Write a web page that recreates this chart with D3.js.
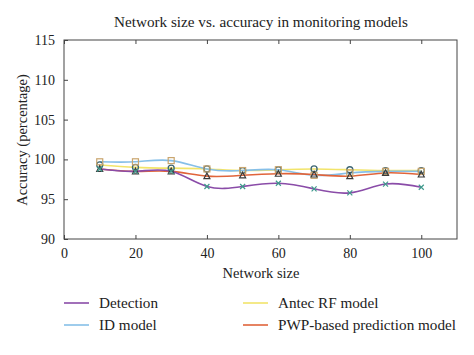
<!DOCTYPE html>
<html><head><meta charset="utf-8">
<script src="https://cdn.jsdelivr.net/npm/d3@7"></script>
<style>body{margin:0;background:#fff}svg{display:block}text{font-family:"Liberation Serif","Times New Roman",serif;fill:#222}</style>
</head><body><svg id="c" width="474" height="355"></svg>
<script>
const sizes = [10,20,30,40,50,60,70,80,90,100];
const detection = [98.8,98.5,98.5,96.6,96.6,97.0,96.3,95.8,96.9,96.5];
const idModel   = [99.7,99.7,99.85,98.8,98.6,98.7,98.0,98.3,98.5,98.5];
const antecRF   = [99.3,99.0,98.9,98.8,98.6,98.7,98.8,98.7,98.6,98.6];
const pwp       = [98.8,98.5,98.5,97.9,98.0,98.2,98.1,97.9,98.3,98.1];
const xTicks = [0,20,40,60,80,100];
const yTicks = [90,95,100,105,110,115];
const series = [
  {name:"Detection", values:detection, color:"#8a4ca8", marker:"x", mcolor:"#3f9a8c"},
  {name:"ID model", values:idModel, color:"#86bfe8", marker:"square", mcolor:"#c9a56e"},
  {name:"Antec RF model", values:antecRF, color:"#f2e46a", marker:"circle", mcolor:"#3d6673"},
  {name:"PWP-based prediction model", values:pwp, color:"#e0643a", marker:"triangle", mcolor:"#3a3a3a"}
];
const svg = d3.select("#c");
const L=64, R=457, T=40, B=239;
const x = d3.scaleLinear().domain([0,110]).range([L,R]);
const y = d3.scaleLinear().domain([90,115]).range([B,T]);

svg.append("text").attr("x",261).attr("y",27).attr("text-anchor","middle").style("font-size","15.2px").text("Network size vs. accuracy in monitoring models");

svg.append("rect").attr("x",L).attr("y",T).attr("width",R-L).attr("height",B-T).attr("fill","none").attr("stroke","#444").attr("stroke-width",1);

const gx = svg.append("g").attr("transform",`translate(0,${B})`)
  .call(d3.axisBottom(x).tickValues(xTicks).tickSize(-4).tickPadding(9));
const gxt = svg.append("g").attr("transform",`translate(0,${T})`)
  .call(d3.axisTop(x).tickValues(xTicks).tickSize(-4).tickFormat(""));
const gy = svg.append("g").attr("transform",`translate(${L},0)`)
  .call(d3.axisLeft(y).tickValues(yTicks).tickSize(-4).tickPadding(9));
[gx,gxt,gy].forEach(g=>{g.select(".domain").remove();g.selectAll("line").attr("stroke","#444");
  g.selectAll("text").style("font-size","14px").style("font-family","Liberation Serif").attr("fill","#222");});

svg.append("text").attr("x",261).attr("y",278).attr("text-anchor","middle").style("font-size","14.5px").text("Network size");
svg.append("text").attr("transform","translate(27,140) rotate(-90)").attr("text-anchor","middle").style("font-size","14.5px").text("Accuracy (percentage)");

const line = d3.line().x((d,i)=>x(sizes[i])).y(d=>y(d)).curve(d3.curveNatural);
const order = [2,1,3,0];
order.forEach(k=>{const s=series[k];
  svg.append("path").attr("d",line(s.values)).attr("fill","none").attr("stroke",s.color).attr("stroke-width",1.6);
});
order.forEach(k=>{const s=series[k];
  const g=svg.append("g");
  s.values.forEach((v,i)=>{const cx=x(sizes[i]), cy=y(v);
    if(s.marker==="x"){g.append("path").attr("d",`M${cx-2.5},${cy-2.5}L${cx+2.5},${cy+2.5}M${cx-2.5},${cy+2.5}L${cx+2.5},${cy-2.5}`).attr("stroke",s.mcolor).attr("stroke-width",1.2);}
    else if(s.marker==="square"){g.append("rect").attr("x",cx-3).attr("y",cy-3).attr("width",6).attr("height",6).attr("fill","none").attr("stroke",s.mcolor).attr("stroke-width",1.2);}
    else if(s.marker==="circle"){g.append("circle").attr("cx",cx).attr("cy",cy).attr("r",3).attr("fill","none").attr("stroke",s.mcolor).attr("stroke-width",1.3);}
    else {g.append("path").attr("d",`M${cx},${cy-3.2}L${cx+3},${cy+2.5}L${cx-3},${cy+2.5}Z`).attr("fill","none").attr("stroke",s.mcolor).attr("stroke-width",1.2);}
  });
});

const leg = [{s:series[0],x:64,y:308},{s:series[1],x:64,y:330},{s:series[2],x:243,y:308},{s:series[3],x:243,y:330}];
leg.forEach(l=>{
  svg.append("line").attr("x1",l.x).attr("x2",l.x+25).attr("y1",l.y-5).attr("y2",l.y-5).attr("stroke",l.s.color).attr("stroke-width",1.6);
  svg.append("text").attr("x",l.x+35).attr("y",l.y).style("font-size","15.2px").text(l.s.name);
});
</script></body></html>
